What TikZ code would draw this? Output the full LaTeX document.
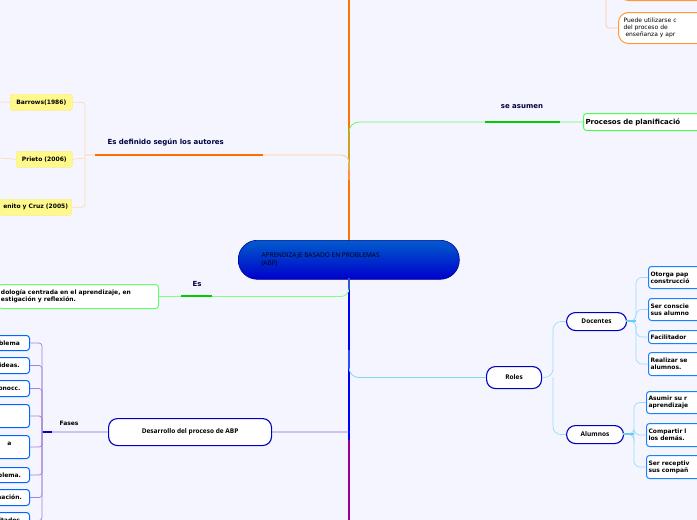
\documentclass[tikz,border=0pt]{standalone}
\usepackage{fontspec}
\setmainfont{DejaVu Sans}
\newfontfamily\osans{Open Sans}
\begin{document}
\begin{tikzpicture}[x=1pt,y=-1pt,
  box/.style={draw,rounded corners=3pt,line width=1pt,anchor=north west,inner sep=2pt,font=\bfseries\fontsize{6}{7}\selectfont,align=left},
  leafb/.style={box,draw=blue!60!cyan,fill=white},
  leafc/.style={box,draw=blue!55!cyan!90,fill=white},
  yel/.style={box,draw=yellow!70!orange!40,fill=yellow!45,rounded corners=2pt,line width=0.6pt},
  mid/.style={draw=blue!75!black,line width=1.1pt,fill=white,rounded corners=9pt,anchor=north west,font=\osans\bfseries\fontsize{7}{8}\selectfont},
  lbl/.style={font=\bfseries\fontsize{7}{8}\selectfont,text=blue!25!black}]
\useasboundingbox (0,0) rectangle (697,520);
\clip (0,0) rectangle (697,520);
\fill[blue!4!white] (0,0) rectangle (697,520);
% trunk
\draw[orange!90!red,line width=2pt] (349,0) -- (349,242);
\draw[blue,line width=2pt] (349,278) -- (349,440);
\draw[violet!80!magenta,line width=2pt] (349,440) -- (349,520);
% central
\node[anchor=north west,minimum width=221,minimum height=39,rounded corners=19pt,top color=blue!55!cyan!80!black,bottom color=blue!80!black,draw=blue!60!black,line width=0.6pt] (c) at (238,240) {};
\node[anchor=west,align=left,font=\osans\fontsize{6.5}{8}\selectfont] (ct) at (258,259.5) {APRENDIZAJE BASADO EN PROBLEMAS\\(ABP)};
% top right
\node[box,draw=orange!80,fill=white,rounded corners=10pt,minimum width=90,minimum height=20] (t1) at (618,-20) {};
\node[box,draw=orange!80,fill=white,rounded corners=10pt,font=\fontsize{6}{7}\selectfont,minimum width=90,minimum height=31,text width=80] (t2) at (618,12) {Puede utilizarse c\\del proceso de\\\ enseñanza y apr};
\draw[orange!40,line width=0.8pt,rounded corners=3pt] (606,0) |- (t2.west);
% se asumen
\node[box,draw=green!70,fill=white,line width=1pt,font=\bfseries\fontsize{7}{8}\selectfont,minimum height=17,text width=120] (p) at (583,113) {Procesos de planificació};
\coordinate (sa) at (485,122);
\draw[green!60,line width=0.8pt,rounded corners=10pt] (349,170) -- (349,122) -- (p.west);
\draw[green!80!black,line width=1.3pt] (485,122) -- (560,122);
\node[lbl,anchor=south] at (522,112) {se asumen};
% Es definido
\draw[orange!40,line width=0.8pt,rounded corners=8pt] (349,180) |- (85,155);
\draw[orange!85!red,line width=1.3pt] (95,155) -- (263,155);
\node[lbl,anchor=south west] at (104,150) {Es definido según los autores};
\node[yel,minimum width=62,minimum height=16] (b1) at (10,94) {Barrows(1986)};
\node[yel,minimum width=56,minimum height=16] (b2) at (16,151) {Prieto (2006)};
\node[yel,minimum width=72,minimum height=16,anchor=north east] (b3) at (72,199) {enito y Cruz (2005)};
\draw[orange!30,line width=0.7pt,rounded corners=3pt] (b1.east) -| (85,155) |- (b3.east);
\draw[orange!30,line width=0.7pt] (b2.east) -- (85,158);
\draw[orange!30,line width=0.7pt] (0,102) -- (b1.west) (0,158) -- (b2.west);
% Es
\node[box,draw=green!60,fill=white,minimum width=160,minimum height=24,anchor=north east,text width=155] (es) at (159,284) {dología centrada en el aprendizaje, en\\estigación y reflexión.};
\draw[green!50,line width=0.8pt,rounded corners=8pt] (349,278) |- (es.east);
\draw[green!80!black,line width=1.3pt] (181,296) -- (212,296);
\node[lbl,anchor=south] at (197,290) {Es};
% Desarrollo
\node[mid,minimum width=163,minimum height=27] (d) at (108,418) {};
\node[font=\osans\bfseries\fontsize{6.5}{8}\selectfont] at (d.center) {Desarrollo del proceso de ABP};
\draw[blue!50!violet!60,line width=0.8pt] (349,432) -- (d.east);
\draw[blue!50!violet!60,line width=0.8pt] (d.west) -- (52,432);
\draw[blue!80!black,line width=1.3pt] (42,432) -- (52,432);
\node[font=\bfseries\fontsize{6}{7}\selectfont,anchor=south west] at (56,429) {Fases};
\foreach \n/\t/\a/\b in {f1/blema/335/350,f2/ideas./357/373,f3/onocc./380/396,f4/{}/404/427,f5/a\\{}/435/458,f6/blema./467/482,f7/nación./489/505,f8/itadoc/512/528}{
  \pgfmathsetmacro\hh{\b-\a}
  \node[leafb,anchor=north east,minimum width=40,minimum height=\hh] (\n) at (30,\a) {\t};
  \draw[blue!45!violet!50,line width=0.7pt,rounded corners=3pt] (\n.east) -| (42,432);
}
% Roles
\node[mid,minimum width=55,minimum height=22] (r) at (486,366) {};
\node[font=\osans\bfseries\fontsize{6.5}{8}\selectfont] at (r.center) {Roles};
\draw[cyan!50,line width=0.8pt,rounded corners=10pt] (349,350) |- (r.west);
\node[mid,minimum width=60,minimum height=18] (dc) at (566,312) {};
\node[font=\osans\bfseries\fontsize{6.5}{8}\selectfont] at (dc.center) {Docentes};
\node[mid,minimum width=57,minimum height=18] (al) at (566,425) {};
\node[font=\osans\bfseries\fontsize{6.5}{8}\selectfont] at (al.center) {Alumnos};
\draw[cyan!40,line width=0.7pt,rounded corners=8pt] (r.east) -- (553,377) |- (dc.west);
\draw[cyan!40,line width=0.7pt,rounded corners=8pt] (553,377) |- (al.west);
\foreach \n/\t/\a/\b in {o1/{Otorga pap\\construcció}/266/288,o2/{Ser conscie\\sus alumno}/298/320,o3/Facilitador/330/343,o4/{Realizar se\\alumnos.}/352/375}{
  \pgfmathsetmacro\hh{\b-\a}
  \node[leafc,minimum width=60,minimum height=\hh,text width=56] (\n) at (648,\a) {\t};
  \draw[cyan!40,line width=0.7pt,rounded corners=6pt] (dc.east) -- (636,321) |- (\n.west);
}
\draw[cyan!60,line width=1.3pt] (626,321) -- (636,321);
\foreach \n/\t/\a/\b in {a1/{Asumir su r\\aprendizaje}/391/413,a2/{Compartir l\\los demás.}/423/446,a3/{Ser receptiv\\sus compañ}/455/478}{
  \pgfmathsetmacro\hh{\b-\a}
  \node[leafc,minimum width=60,minimum height=\hh,text width=56] (\n) at (646,\a) {\t};
  \draw[cyan!40,line width=0.7pt,rounded corners=6pt] (al.east) -- (634,434) |- (\n.west);
}
\draw[cyan!60,line width=1.3pt] (623,434) -- (634,434);
\end{tikzpicture}
\end{document}
